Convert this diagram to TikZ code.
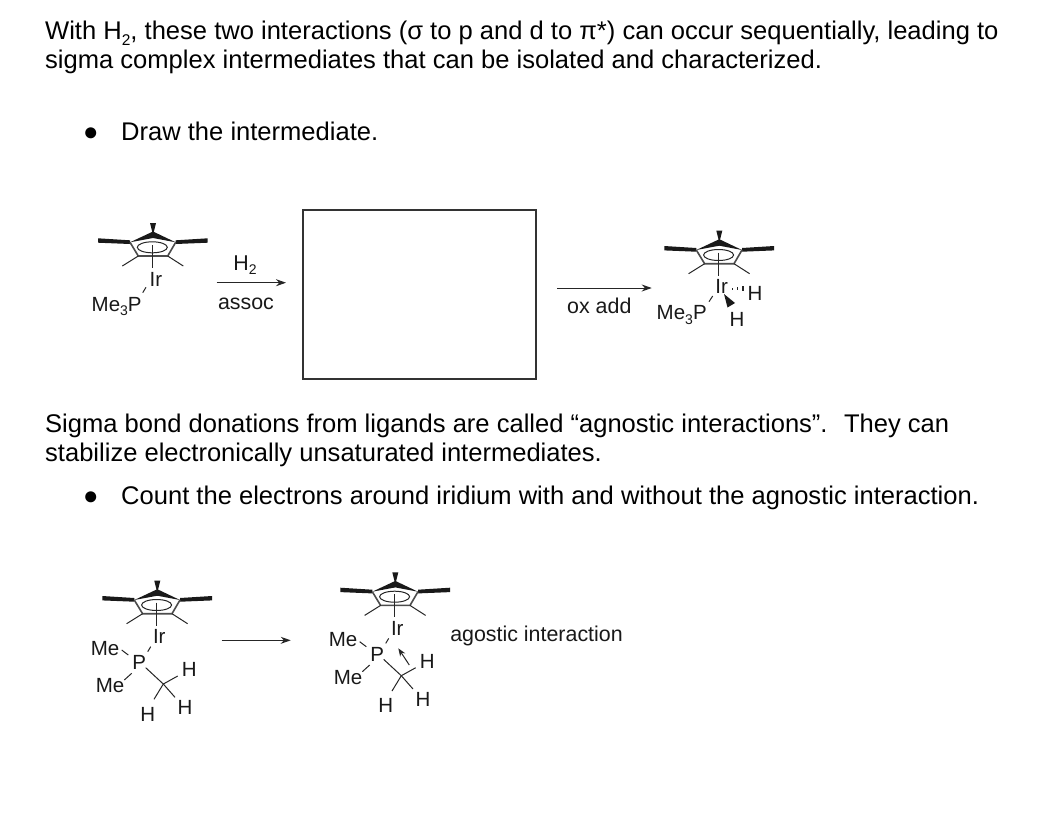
\documentclass[tikz,border=0pt]{standalone}
\usepackage{fontspec}
\setmainfont{Liberation Sans}
\usetikzlibrary{arrows.meta}
\newcommand{\fsz}[1]{\fontsize{#1}{#1}\selectfont}
\newcommand{\subtwo}[1]{\raisebox{-0.22em}{\fontsize{15.5}{15.5}\selectfont #1}}
\tikzset{
 x=1pt,y=-1pt,
 para/.style={anchor=base west,inner sep=0pt,font=\fsz{25.55}},
 chem/.style={inner sep=0pt,font=\fsz{20.5},text=black!90},
 lab/.style={inner sep=0pt,font=\fsz{21.4},text=black!90},
 bond/.style={draw=black!85,line width=1pt},
 rxn/.style={draw=black!85,line width=1pt,-{Stealth[length=10pt,width=7pt]}},
}
% Cp* ring with its origin at the top ring atom
\newcommand{\cpstar}[2]{%
 \begin{scope}[shift={(#1,#2)}]
  \fill[black!90] (0,1) -- (-3,-11) -- (3,-11) -- cycle;
  \fill[black!90] (-23,6.3) -- (-23,10) -- (-55,8.7) -- (-55,4.3) -- cycle;
  \fill[black!90] (22.7,6.3) -- (22.7,10) -- (54.7,8.7) -- (54.7,4.3) -- cycle;
  \fill[black!90] (-23,8.3) -- (0,-2.5) -- (22.7,8.3) -- (0,4) -- cycle;
  \draw[draw=black!70,line width=1.6pt] (-23,8.3) -- (-14.7,22) -- (14.7,22) -- (22.7,8.3);
  \draw[bond] (-14.7,22) -- (-30.7,32);
  \draw[bond] (14.7,22) -- (30.3,32);
  \draw[bond] (-0.7,13.3) ellipse [x radius=15,y radius=5.5];
  \draw[bond] (-0.7,11) -- (-0.7,34);
 \end{scope}}
\newcommand{\phosphine}[3]{%
 \begin{scope}[shift={(#1,#2)}]
  \node[chem] (ir#3) at (0,0) {Ir};
  \node[chem] (p#3) at (-20,26) {P};
  \node[chem] (mea#3) at (-54.3,11.6) {Me};
  \node[chem] (meb#3) at (-49.3,49.3) {Me};
  \coordinate (c#3) at (4,47.3);
  \node[chem] (ha#3) at (30,32.6) {H};
  \node[chem] (hb#3) at (25.7,70.6) {H};
  \node[chem] (hc#3) at (-11.6,77.3) {H};
  \draw[bond] (-8.6,10) -- (-11.6,15);
  \draw[bond] (-37.6,13.3) -- (-31,18.3);
  \draw[bond] (-35,43.3) -- (-27.6,36.6);
  \draw[bond] (-13.6,31) -- (c#3);
  \draw[bond] (c#3) -- (18.4,39.3);
  \draw[bond] (c#3) -- (15.7,60.6);
  \draw[bond] (c#3) -- (-5.3,62.6);
 \end{scope}}
\begin{document}
\begin{tikzpicture}
\useasboundingbox (0,0) rectangle (1048,812);
\fill[white] (0,0) rectangle (1048,812);
\node[para] (t1) at (45,39.5) {With H\subtwo{2}, these two interactions (σ to p and d to π*) can occur sequentially, leading to};
\node[para] (t2) at (45,68.5) {sigma complex intermediates that can be isolated and characterized.};
\node[para] (b1) at (83,140.5) {●};
\node[para] (t3) at (121,140.5) {Draw the intermediate.};
\node[para] (t4) at (45,432.5) {Sigma bond donations from ligands are called “agnostic interactions”.\hspace{7pt} They can};
\node[para] (t5) at (45,461.5) {stabilize electronically unsaturated intermediates.};
\node[para] (b2) at (83,504.5) {●};
\node[para] (t6) at (121,504.5) {Count the electrons around iridium with and without the agnostic interaction.};
\node[draw=black!80,line width=1.2pt,minimum width=233pt,minimum height=169pt,inner sep=0pt] (box) at (419.5,294.5) {};
% first complex
\cpstar{153}{234}
\node[chem] (ir1) at (156,279) {Ir};
\node[chem] (mp1) at (116.7,306.7) {Me\subtwo{\fsz{14}3}P};
\draw[bond] (146,287.3) -- (142.7,292.7);
\coordinate (a1s) at (216.7,282.7);
\coordinate (a1e) at (286,282.7);
\draw[rxn] (a1s) -- (a1e);
\node[lab] (h2) at (245,265) {H\subtwo{\fsz{14}2}};
\node[lab] (assoc) at (246,304) {assoc};
% second arrow
\coordinate (a2s) at (557.3,288);
\coordinate (a2e) at (651.7,288);
\draw[rxn] (a2s) -- (a2e);
\node[lab] (ox) at (599.3,306) {ox add};
% product
\cpstar{719.3}{241.7}
\node[chem] (ir2) at (721.7,286.7) {Ir};
\node[chem] (mp2) at (681.7,315) {Me\subtwo{\fsz{14}3}P};
\node[chem] (h21) at (755,293) {H};
\node[chem] (h22) at (737,319) {H};
\draw[bond] (712.7,296) -- (709,301.7);
\draw[bond,line width=1.3pt] (732.5,288) -- (732.5,289.5) (737.5,287) -- (737.5,290) (743,286) -- (743,291);
\fill[black!90] (724,294) -- (727.5,307.5) -- (735,303) -- cycle;
% lower left
\cpstar{157.3}{591.7}
\phosphine{159.3}{636.7}{L}
\coordinate (a3s) at (221.7,640.3);
\coordinate (a3e) at (290.7,640.3);
\draw[rxn] (a3s) -- (a3e);
% lower right
\cpstar{395.3}{583.4}
\phosphine{397.3}{628.4}{R}
\coordinate (a4s) at (409.3,665);
\coordinate (a4e) at (398.3,648.3);
\draw[draw=black!85,line width=1pt,-{Stealth[length=8pt,width=6pt]}] (a4s) -- (a4e);
\node[lab] (ago) at (536.5,636) {agostic interaction};
\end{tikzpicture}
\end{document}
